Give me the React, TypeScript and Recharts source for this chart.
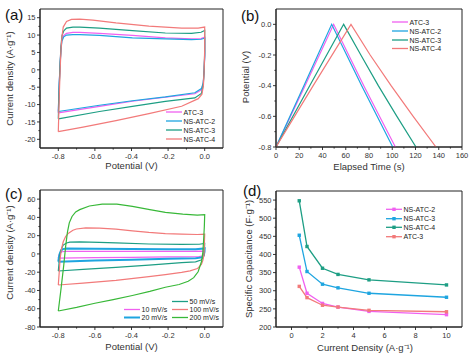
import React from 'react';
import { LineChart, Line, XAxis, YAxis, ReferenceArea, Label } from 'recharts';

const PINK = '#f060f0';
const BLUE = '#1ea5e0';
const TEAL = '#1d9e84';
const SALMON = '#f27a7a';
const GREEN = '#38b838';
const INK = '#222';
const FONT = '"Liberation Sans", Arial, sans-serif';

// (a) CV curves, [potential V, current density A/g]
const cvAtc3 = [[-0.8, -12.4], [-0.795, -4], [-0.79, 2], [-0.785, 6.5], [-0.78, 8.8], [-0.77, 9.9], [-0.755, 10.5], [-0.72, 10.8], [-0.683, 10.8], [-0.575, 10.5], [-0.395, 9.9], [-0.215, 9.2], [-0.072, 8.9], [-0.02, 9.0], [0, 9.4], [0, 4], [-0.003, 0], [-0.008, -4], [-0.018, -5.8], [-0.054, -6.9], [-0.215, -7.9], [-0.395, -9.05], [-0.575, -10.5], [-0.8, -12.4]];
const cvNsAtc2 = [[-0.8, -12.0], [-0.795, -4], [-0.79, 1.5], [-0.785, 6], [-0.78, 8.3], [-0.77, 9.5], [-0.755, 10.0], [-0.72, 10.15], [-0.683, 10.1], [-0.575, 9.9], [-0.395, 9.2], [-0.215, 8.9], [-0.072, 8.7], [-0.02, 8.8], [0, 9.1], [0, 4], [-0.003, 0], [-0.008, -3.8], [-0.018, -5.4], [-0.054, -6.6], [-0.215, -7.8], [-0.395, -8.9], [-0.575, -10.2], [-0.8, -12.0]];
const cvNsAtc3 = [[-0.8, -14.1], [-0.795, -5], [-0.79, 2], [-0.785, 7], [-0.78, 9.8], [-0.77, 11.2], [-0.755, 12.0], [-0.72, 12.3], [-0.683, 12.3], [-0.575, 12.0], [-0.395, 11.3], [-0.215, 10.6], [-0.072, 10.5], [-0.02, 10.8], [0, 11.3], [0, 5], [-0.003, 0], [-0.008, -4.5], [-0.018, -6.8], [-0.054, -8.1], [-0.215, -9.1], [-0.395, -10.5], [-0.575, -12.0], [-0.8, -14.1]];
const cvNsAtc4 = [[-0.8, -17.8], [-0.795, -8], [-0.79, 0], [-0.785, 6], [-0.78, 9.5], [-0.773, 12.3], [-0.755, 13.9], [-0.728, 14.5], [-0.683, 14.6], [-0.611, 14.3], [-0.485, 13.5], [-0.305, 12.6], [-0.126, 12.0], [-0.036, 12.0], [0, 12.3], [0, 6], [-0.003, 0], [-0.007, -4.5], [-0.015, -7], [-0.035, -8.3], [-0.126, -10.5], [-0.305, -12.6], [-0.485, -14.6], [-0.665, -16.5], [-0.8, -17.8]];

// (b) charge/discharge, [time s, potential V]
const gcdAtc3 = [[0, -0.8], [25, -0.4], [49.6, 0], [62.5, -0.2], [75.5, -0.4], [89, -0.6], [102.7, -0.8]];
const gcdNsAtc2 = [[0, -0.8], [24, -0.4], [47.9, 0], [60.8, -0.2], [73.7, -0.4], [87, -0.6], [100.4, -0.8]];
const gcdNsAtc3 = [[0, -0.8], [29, -0.4], [58.2, 0], [73, -0.2], [88, -0.4], [104, -0.6], [120.4, -0.8]];
const gcdNsAtc4 = [[0, -0.8], [32, -0.4], [64.5, 0], [81, -0.2], [99, -0.4], [118, -0.6], [137.6, -0.8]];

// (c) CV at scan rates
const cv10 = [[-0.8, -4.5], [-0.797, -1.5], [-0.79, 1.2], [-0.78, 2.4], [-0.76, 2.8], [-0.4, 2.7], [-0.1, 2.7], [0, 3.1], [-0.002, 0.5], [-0.008, -2], [-0.03, -2.9], [-0.2, -3.3], [-0.4, -3.7], [-0.6, -4.1], [-0.8, -4.5]];
const cv20 = [[-0.8, -8.5], [-0.797, -4], [-0.792, 0.5], [-0.785, 3.8], [-0.775, 5.3], [-0.755, 5.9], [-0.6, 5.8], [-0.4, 5.5], [-0.2, 5.2], [-0.05, 5.2], [0, 6], [-0.002, 1.5], [-0.006, -2], [-0.015, -3.8], [-0.05, -4.6], [-0.2, -5.3], [-0.4, -6.3], [-0.6, -7.3], [-0.8, -8.5]];
const cv50 = [[-0.8, -18.7], [-0.795, -8], [-0.79, 0], [-0.782, 6], [-0.773, 9.7], [-0.755, 12], [-0.737, 12.9], [-0.683, 13.3], [-0.575, 12.7], [-0.485, 12.2], [-0.305, 10.9], [-0.126, 10.4], [-0.03, 10.6], [0, 11.5], [-0.002, 4], [-0.004, -1.2], [-0.01, -4.5], [-0.02, -6.7], [-0.05, -8.6], [-0.126, -9.6], [-0.305, -12.2], [-0.485, -14.7], [-0.665, -16.9], [-0.8, -18.7]];
const cv100 = [[-0.8, -34], [-0.795, -20], [-0.79, -5], [-0.782, 6], [-0.773, 13.3], [-0.76, 19], [-0.746, 22.5], [-0.72, 26], [-0.701, 27.3], [-0.65, 28.6], [-0.575, 28.2], [-0.485, 27.2], [-0.395, 25.3], [-0.305, 23.5], [-0.215, 22.3], [-0.126, 21.6], [-0.04, 21.3], [0, 21.6], [-0.002, 10], [-0.004, -1], [-0.01, -7], [-0.018, -11.5], [-0.04, -16], [-0.08, -18.5], [-0.126, -20.2], [-0.215, -22.6], [-0.305, -24.9], [-0.485, -29], [-0.665, -32], [-0.8, -34]];
const cv200 = [[-0.8, -62.5], [-0.785, -38], [-0.77, -12], [-0.76, 8], [-0.75, 24], [-0.74, 34], [-0.725, 41], [-0.705, 46], [-0.683, 48.5], [-0.63, 52.5], [-0.56, 54.5], [-0.48, 54.5], [-0.395, 52], [-0.3, 48.5], [-0.215, 45.5], [-0.12, 43.5], [-0.04, 42.5], [0, 43], [-0.002, 30], [-0.006, 15], [-0.01, 2], [-0.017, -8], [-0.036, -19.5], [-0.06, -26], [-0.09, -30], [-0.14, -33.5], [-0.215, -36.5], [-0.3, -41], [-0.395, -45.5], [-0.5, -50], [-0.6, -54], [-0.7, -58.5], [-0.8, -62.5]];

// (d) rate capability
const currentDensity = [0.5, 1, 2, 3, 5, 10];
const capNsAtc2 = [365, 293, 265, 255, 243, 234];
const capNsAtc3 = [453, 353, 318, 308, 293, 282];
const capNsAtc4 = [548, 422, 362, 345, 330, 316];
const capAtc3 = [312, 281, 260, 255, 246, 242];

// ticks
const cvXMajor = [-0.8, -0.6, -0.4, -0.2, 0];
const cvXMinor = [-0.7, -0.5, -0.3, -0.1];
const aYMajor = [-20, -15, -10, -5, 0, 5, 10, 15];
const aYMinor = [-17.5, -12.5, -7.5, -2.5, 2.5, 7.5, 12.5];
const bXMajor = [0, 20, 40, 60, 80, 100, 120, 140, 160];
const bXMinor = [10, 30, 50, 70, 90, 110, 130, 150];
const bYMajor = [-0.8, -0.6, -0.4, -0.2, 0];
const bYMinor = [-0.7, -0.5, -0.3, -0.1];
const cYMajor = [-80, -60, -40, -20, 0, 20, 40, 60];
const cYMinor = [-70, -50, -30, -10, 10, 30, 50];
const dXMajor = [0, 2, 4, 6, 8, 10];
const dXMinor = [1, 3, 5, 7, 9];
const dYMajor = [200, 250, 300, 350, 400, 450, 500, 550];
const dYMinor = [225, 275, 325, 375, 425, 475, 525];

const pts = (pairs: number[][]) => pairs.map(([x, y]) => ({ x, y }));

const dTable = currentDensity.map((x, i) => ({
  x,
  ns2: capNsAtc2[i],
  ns3: capNsAtc3[i],
  ns4: capNsAtc4[i],
  atc3: capAtc3[i],
}));

const isIn = (list: number[], v: number) => list.some((m) => Math.abs(m - v) < 1e-6);
const fix1 = (v: number) => v.toFixed(1);
const plain = (v: number) => String(v);

function xTick(major: number[], fmt: (v: number) => string) {
  return function XTick(props: any) {
    const { x, y, payload } = props;
    const big = isIn(major, payload.value);
    return (
      <g>
        <line x1={x} x2={x} y1={y} y2={y + (big ? 3 : 1.6)} stroke={INK} strokeWidth={0.9} />
        {big && (
          <text x={x} y={y + 10.5} textAnchor="middle" fontSize={7.5} fill="#333">
            {fmt(payload.value)}
          </text>
        )}
      </g>
    );
  };
}

function yTick(major: number[], fmt: (v: number) => string) {
  return function YTick(props: any) {
    const { x, y, payload } = props;
    const big = isIn(major, payload.value);
    return (
      <g>
        <line x1={x} x2={x - (big ? 3 : 1.6)} y1={y} y2={y} stroke={INK} strokeWidth={0.9} />
        {big && (
          <text x={x - 4.5} y={y + 2.7} textAnchor="end" fontSize={7.5} fill="#333">
            {fmt(payload.value)}
          </text>
        )}
      </g>
    );
  };
}

const titleStyle = { fontSize: 9.5, fill: '#333' };
const axisLine = { stroke: INK, strokeWidth: 1 };

type LegendRow = { label: string; color: string; y: number; x: number; marker?: boolean; thick?: boolean };

const legendRows: LegendRow[] = [
  { label: 'ATC-3', color: PINK, x: 166, y: 112 },
  { label: 'NS-ATC-2', color: BLUE, x: 166, y: 121 },
  { label: 'NS-ATC-3', color: TEAL, x: 166, y: 130 },
  { label: 'NS-ATC-4', color: SALMON, x: 166, y: 139 },
  { label: 'ATC-3', color: PINK, x: 392, y: 22 },
  { label: 'NS-ATC-2', color: BLUE, x: 392, y: 31 },
  { label: 'NS-ATC-3', color: TEAL, x: 392, y: 40 },
  { label: 'NS-ATC-4', color: SALMON, x: 392, y: 48.5 },
  { label: '50 mV/s', color: TEAL, x: 172, y: 301.5 },
  { label: '10 mV/s', color: PINK, x: 124, y: 309.5 },
  { label: '100 mV/s', color: SALMON, x: 172, y: 309.5 },
  { label: '20 mV/s', color: BLUE, x: 124, y: 317.5, thick: true },
  { label: '200 mV/s', color: GREEN, x: 172, y: 317.5 },
  { label: 'NS-ATC-2', color: PINK, x: 386, y: 209.3, marker: true },
  { label: 'NS-ATC-3', color: BLUE, x: 386, y: 218.7, marker: true },
  { label: 'NS-ATC-4', color: TEAL, x: 386, y: 227.3, marker: true },
  { label: 'ATC-3', color: SALMON, x: 386, y: 236.7, marker: true },
];

const panelTags = [
  { t: '(a)', x: 5, y: 20 },
  { t: '(b)', x: 241, y: 21 },
  { t: '(c)', x: 5, y: 198.5 },
  { t: '(d)', x: 243, y: 195.5 },
];

const SquareDot = (props: any) => {
  const { cx, cy, stroke } = props;
  if (cx == null || cy == null) return null;
  return <rect x={cx - 1.7} y={cy - 1.7} width={3.4} height={3.4} fill={stroke} />;
};

export default function App() {
  return (
    <div style={{ position: 'absolute', left: 0, top: 0, width: 474, height: 359, background: '#fff', fontFamily: FONT }}>
      {/* (a) */}
      <div style={{ position: 'absolute', left: 0, top: 0 }}>
        <LineChart width={237} height={179} margin={{ top: 9, right: 14, bottom: 0, left: 0 }}>
          <XAxis dataKey="x" type="number" domain={[-0.9, 0.1]} allowDataOverflow ticks={[...cvXMajor, ...cvXMinor]} interval={0} tickSize={0} tickMargin={0} tickLine={false} axisLine={axisLine} tick={xTick(cvXMajor, fix1)} height={31}>
            <Label value="Potential (V)" position="center" dy={2.5} style={titleStyle} />
          </XAxis>
          <YAxis type="number" domain={[-22.5, 17.5]} allowDataOverflow ticks={[...aYMajor, ...aYMinor]} interval={0} tickSize={0} tickMargin={0} tickLine={false} axisLine={axisLine} tick={yTick(aYMajor, plain)} width={40}>
            <Label value="Current density (A·g⁻¹)" angle={-90} position="center" dx={-10} style={titleStyle} />
          </YAxis>
          <ReferenceArea x1={-0.9} x2={0.1} y1={-22.5} y2={17.5} fill="none" stroke={INK} strokeWidth={1} />
          <Line data={pts(cvAtc3)} dataKey="y" stroke={PINK} strokeWidth={1.2} dot={false} isAnimationActive={false} type="linear" />
          <Line data={pts(cvNsAtc2)} dataKey="y" stroke={BLUE} strokeWidth={1.2} dot={false} isAnimationActive={false} type="linear" />
          <Line data={pts(cvNsAtc3)} dataKey="y" stroke={TEAL} strokeWidth={1.2} dot={false} isAnimationActive={false} type="linear" />
          <Line data={pts(cvNsAtc4)} dataKey="y" stroke={SALMON} strokeWidth={1.2} dot={false} isAnimationActive={false} type="linear" />
        </LineChart>
      </div>

      {/* (b) */}
      <div style={{ position: 'absolute', left: 237, top: 0 }}>
        <LineChart width={237} height={179} margin={{ top: 9, right: 12, bottom: 0, left: 0 }}>
          <XAxis dataKey="x" type="number" domain={[0, 160]} allowDataOverflow ticks={[...bXMajor, ...bXMinor]} interval={0} tickSize={0} tickMargin={0} tickLine={false} axisLine={axisLine} tick={xTick(bXMajor, plain)} height={32}>
            <Label value="Elapsed Time (s)" position="center" dy={3.5} style={titleStyle} />
          </XAxis>
          <YAxis type="number" domain={[-0.8, 0.1]} allowDataOverflow ticks={[...bYMajor, ...bYMinor]} interval={0} tickSize={0} tickMargin={0} tickLine={false} axisLine={axisLine} tick={yTick(bYMajor, fix1)} width={39}>
            <Label value="Potential (V)" angle={-90} position="center" dx={-11} dy={-1} style={titleStyle} />
          </YAxis>
          <ReferenceArea x1={0} x2={160} y1={-0.8} y2={0.1} fill="none" stroke={INK} strokeWidth={1} />
          <Line data={pts(gcdAtc3)} dataKey="y" stroke={PINK} strokeWidth={1.2} dot={false} isAnimationActive={false} type="linear" />
          <Line data={pts(gcdNsAtc2)} dataKey="y" stroke={BLUE} strokeWidth={1.2} dot={false} isAnimationActive={false} type="linear" />
          <Line data={pts(gcdNsAtc3)} dataKey="y" stroke={TEAL} strokeWidth={1.2} dot={false} isAnimationActive={false} type="linear" />
          <Line data={pts(gcdNsAtc4)} dataKey="y" stroke={SALMON} strokeWidth={1.2} dot={false} isAnimationActive={false} type="linear" />
        </LineChart>
      </div>

      {/* (c) */}
      <div style={{ position: 'absolute', left: 0, top: 179 }}>
        <LineChart width={237} height={180} margin={{ top: 11, right: 14, bottom: 0, left: 0 }}>
          <XAxis dataKey="x" type="number" domain={[-0.9, 0.1]} allowDataOverflow ticks={[...cvXMajor, ...cvXMinor]} interval={0} tickSize={0} tickMargin={0} tickLine={false} axisLine={axisLine} tick={xTick(cvXMajor, fix1)} height={32}>
            <Label value="Potential (V)" position="center" dy={4} style={titleStyle} />
          </XAxis>
          <YAxis type="number" domain={[-80, 70]} allowDataOverflow ticks={[...cYMajor, ...cYMinor]} interval={0} tickSize={0} tickMargin={0} tickLine={false} axisLine={axisLine} tick={yTick(cYMajor, plain)} width={40}>
            <Label value="Current density (A·g⁻¹)" angle={-90} position="center" dx={-10} dy={-6} style={titleStyle} />
          </YAxis>
          <ReferenceArea x1={-0.9} x2={0.1} y1={-80} y2={70} fill="none" stroke={INK} strokeWidth={1} />
          <Line data={pts(cv10)} dataKey="y" stroke={PINK} strokeWidth={1.2} dot={false} isAnimationActive={false} type="linear" />
          <Line data={pts(cv20)} dataKey="y" stroke={BLUE} strokeWidth={2} dot={false} isAnimationActive={false} type="linear" />
          <Line data={pts(cv50)} dataKey="y" stroke={TEAL} strokeWidth={1.2} dot={false} isAnimationActive={false} type="linear" />
          <Line data={pts(cv100)} dataKey="y" stroke={SALMON} strokeWidth={1.2} dot={false} isAnimationActive={false} type="linear" />
          <Line data={pts(cv200)} dataKey="y" stroke={GREEN} strokeWidth={1.2} dot={false} isAnimationActive={false} type="linear" />
        </LineChart>
      </div>

      {/* (d) */}
      <div style={{ position: 'absolute', left: 237, top: 179 }}>
        <LineChart width={237} height={180} data={dTable} margin={{ top: 12, right: 12, bottom: 0, left: 0 }}>
          <XAxis dataKey="x" type="number" domain={[-1, 11]} allowDataOverflow ticks={[...dXMajor, ...dXMinor]} interval={0} tickSize={0} tickMargin={0} tickLine={false} axisLine={axisLine} tick={xTick(dXMajor, plain)} height={32}>
            <Label value="Current Density (A·g⁻¹)" position="center" dx={-4} dy={5} style={titleStyle} />
          </XAxis>
          <YAxis type="number" domain={[200, 575]} allowDataOverflow ticks={[...dYMajor, ...dYMinor]} interval={0} tickSize={0} tickMargin={0} tickLine={false} axisLine={axisLine} tick={yTick(dYMajor, plain)} width={39}>
            <Label value="Specific Capacitance (F·g⁻¹)" angle={-90} position="center" dx={-7.5} style={titleStyle} />
          </YAxis>
          <ReferenceArea x1={-1} x2={11} y1={200} y2={575} fill="none" stroke={INK} strokeWidth={1} />
          <Line dataKey="ns2" stroke={PINK} strokeWidth={1.3} dot={<SquareDot />} isAnimationActive={false} type="linear" />
          <Line dataKey="ns3" stroke={BLUE} strokeWidth={1.3} dot={<SquareDot />} isAnimationActive={false} type="linear" />
          <Line dataKey="ns4" stroke={TEAL} strokeWidth={1.3} dot={<SquareDot />} isAnimationActive={false} type="linear" />
          <Line dataKey="atc3" stroke={SALMON} strokeWidth={1.3} dot={<SquareDot />} isAnimationActive={false} type="linear" />
        </LineChart>
      </div>

      {/* legends and panel tags */}
      <svg width={474} height={359} style={{ position: 'absolute', left: 0, top: 0, pointerEvents: 'none' }}>
        {legendRows.map((r, i) => (
          <g key={i}>
            <line x1={r.x} x2={r.x + 16} y1={r.y} y2={r.y} stroke={r.color} strokeWidth={r.thick ? 2 : 1.3} />
            {r.marker && <rect x={r.x + 6.3} y={r.y - 1.7} width={3.4} height={3.4} fill={r.color} />}
            <text x={r.x + 17.5} y={r.y + 2.5} fontSize={7} fill="#222" fontFamily={FONT}>
              {r.label}
            </text>
          </g>
        ))}
        {panelTags.map((p) => (
          <text key={p.t} x={p.x} y={p.y} fontSize={15} fill="#111" fontFamily={FONT}>
            {p.t}
          </text>
        ))}
      </svg>
    </div>
  );
}
